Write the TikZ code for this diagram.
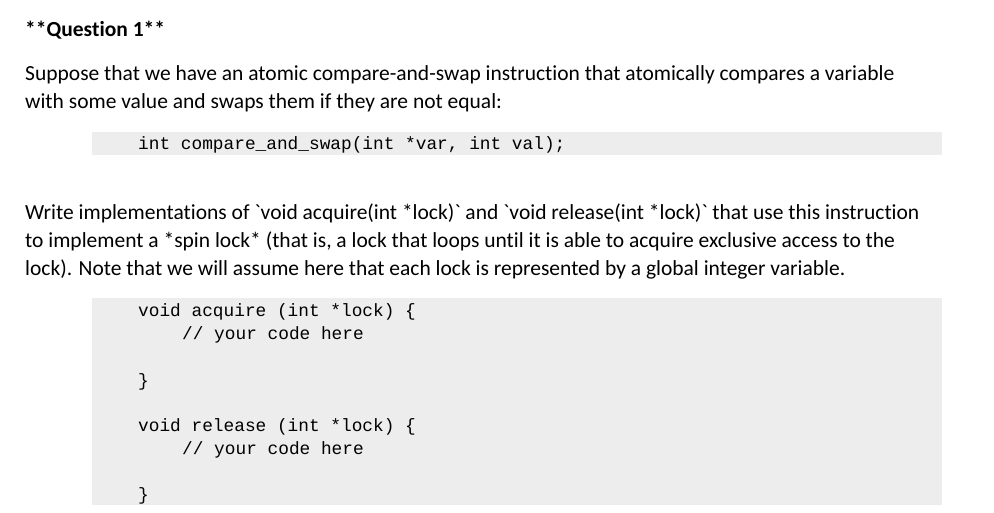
\documentclass[tikz,border=0pt]{standalone}
\usepackage{fontspec}
\setmainfont[Ligatures={NoCommon},Mapping=]{Carlito}
\setmonofont{Liberation Mono}
\newcommand{\bq}{\char96\relax}
\begin{document}
\begin{tikzpicture}[x=1pt,y=-1pt,
  txt/.style={anchor=base west,inner sep=0pt,font=\fontsize{21.5}{24}\selectfont},
  code/.style={anchor=base west,inner sep=0pt,font=\ttfamily\fontsize{17.8}{20}\selectfont},
  gbox/.style={fill=black!7,draw=none}]
\useasboundingbox[fill=white] (0,0) rectangle (994,512);
\node[txt] (q) at (25,36) {\textbf{**Question 1**}};
\node[txt] (p1) at (25,80) {Suppose that we have an atomic compare-and-swap instruction that atomically compares a variable};
\node[txt] (p2) at (25,108) {with some value and swaps them if they are not equal:};
\fill[gbox] (92,132) rectangle (942,155);
\node[code] (c0) at (138,149) {int compare\_and\_swap(int *var, int val);};
\node[txt] (p3) at (25,219) {Write implementations of \bq void acquire(int *lock)\bq\ and \bq void release(int *lock)\bq\ that use this instruction};
\node[txt] (p4) at (25,247) {to implement a *spin lock* (that is, a lock that loops until it is able to acquire exclusive access to the};
\node[txt] (p5) at (25,275) {lock). Note that we will assume here that each lock is represented by a global integer variable.};
\fill[gbox] (92,298) rectangle (942,505);
\node[code] (c1) at (138,316) {void acquire (int *lock) \{};
\node[code] (c2) at (182,339) {// your code here};
\node[code] (c3) at (138,386) {\}};
\node[code] (c4) at (138,431) {void release (int *lock) \{};
\node[code] (c5) at (182,454) {// your code here};
\node[code] (c6) at (138,500) {\}};
\end{tikzpicture}
\end{document}
